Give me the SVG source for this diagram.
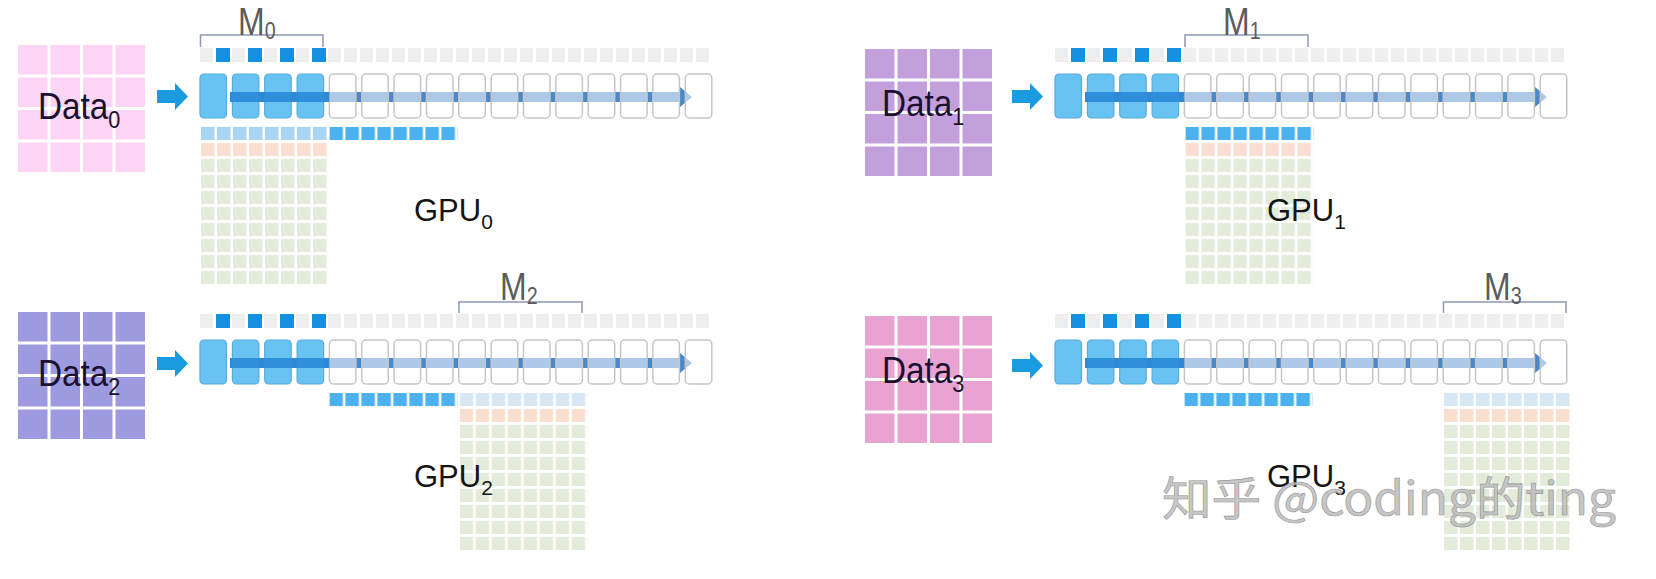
<svg xmlns="http://www.w3.org/2000/svg" xmlns:xlink="http://www.w3.org/1999/xlink" width="1656" height="579" viewBox="0 0 1656 579">
<style>
.lbl{font-family:"Liberation Sans",Arial,sans-serif;fill:#141414}
.dlbl{font-family:"Liberation Sans",Arial,sans-serif;fill:#1b1030;font-size:37px}
.mlbl{font-family:"Liberation Sans",Arial,sans-serif;fill:#5c5c5c;font-size:39px}
.brk{fill:none;stroke:#8e99b6;stroke-width:1.5}
.band{fill:#4a88ca}
.bbox{fill:#68c3f3;stroke:#58abdc;stroke-width:1.2}
.wbox{fill:#ffffff;fill-opacity:0.55;stroke:#c6c6c6;stroke-width:1.5}
.gl{stroke:#ffffff;stroke-width:3}
.inarrow{fill:#1a9be0}
.wm{font-family:"Noto Sans CJK SC",sans-serif;font-size:46px;fill:#bdbdbd;stroke:#858585;stroke-width:0.6;opacity:0.85}
</style>
<defs>
<pattern id="pGray" patternUnits="userSpaceOnUse" x="200" y="48" width="16" height="14"><rect width="13" height="14" fill="#eeeeee"/></pattern>
<pattern id="pBlueL" patternUnits="userSpaceOnUse" x="0" y="0" width="16" height="16"><rect width="13.5" height="13" fill="#a9d5f4"/></pattern>
<pattern id="pBlueXL" patternUnits="userSpaceOnUse" x="0" y="0" width="16" height="16"><rect width="13.5" height="13" fill="#d6e7f6"/></pattern>
<pattern id="pBlueD" patternUnits="userSpaceOnUse" x="0" y="0" width="16" height="16"><rect width="13.5" height="13" fill="#4bb1ef"/></pattern>
<pattern id="pPeach" patternUnits="userSpaceOnUse" x="0" y="0" width="16" height="16"><rect width="13.5" height="13" fill="#fadfd1"/></pattern>
<pattern id="pGreen" patternUnits="userSpaceOnUse" x="0" y="0" width="16" height="16"><rect width="13.5" height="13" fill="#e3ecda"/></pattern>
<g id="gridlines">
<line class="gl" x1="31" y1="0" x2="31" y2="127"/>
<line class="gl" x1="63.5" y1="0" x2="63.5" y2="127"/>
<line class="gl" x1="96" y1="0" x2="96" y2="127"/>
<line class="gl" x1="0" y1="31" x2="127" y2="31"/>
<line class="gl" x1="0" y1="63.5" x2="127" y2="63.5"/>
<line class="gl" x1="0" y1="96" x2="127" y2="96"/>
</g>
<g id="matbody">
<rect y="16" width="128" height="16" fill="url(#pPeach)"/>
<rect y="32" width="128" height="128" fill="url(#pGreen)"/>
</g>
<g id="track">
<rect x="200" y="48" width="512" height="14" fill="url(#pGray)"/>
<g fill="#1590de">
<rect x="216" y="48" width="14" height="14"/>
<rect x="248" y="48" width="14" height="14"/>
<rect x="280" y="48" width="14" height="14"/>
<rect x="312" y="48" width="14" height="14"/>
</g>
<rect class="band" x="230" y="92" width="452" height="10"/>
<polygon class="band" points="680,87 692,97 680,107"/>
<rect class="bbox" x="200" y="74" width="26.5" height="44" rx="4"/>
<rect class="bbox" x="232.4" y="74" width="26.5" height="44" rx="4"/>
<rect class="bbox" x="264.7" y="74" width="26.5" height="44" rx="4"/>
<rect class="bbox" x="297.1" y="74" width="26.5" height="44" rx="4"/>
<rect class="wbox" x="329.4" y="74" width="26.5" height="44" rx="4"/>
<rect class="wbox" x="361.8" y="74" width="26.5" height="44" rx="4"/>
<rect class="wbox" x="394.1" y="74" width="26.5" height="44" rx="4"/>
<rect class="wbox" x="426.5" y="74" width="26.5" height="44" rx="4"/>
<rect class="wbox" x="458.8" y="74" width="26.5" height="44" rx="4"/>
<rect class="wbox" x="491.2" y="74" width="26.5" height="44" rx="4"/>
<rect class="wbox" x="523.5" y="74" width="26.5" height="44" rx="4"/>
<rect class="wbox" x="555.9" y="74" width="26.5" height="44" rx="4"/>
<rect class="wbox" x="588.2" y="74" width="26.5" height="44" rx="4"/>
<rect class="wbox" x="620.6" y="74" width="26.5" height="44" rx="4"/>
<rect class="wbox" x="652.9" y="74" width="26.5" height="44" rx="4"/>
<rect class="wbox" x="685.3" y="74" width="26.5" height="44" rx="4"/>
<rect x="230" y="92" width="99.4" height="10" fill="#2a89d7" opacity="0.9"/>
</g>
</defs>
<rect width="1656" height="579" fill="#ffffff"/>

<!-- Data nodes -->
<g id="data0">
<rect x="18" y="45" width="127" height="127" fill="#fcd4f4"/>
<use xlink:href="#gridlines" transform="translate(18,45)"/>
<text class="dlbl" transform="translate(38,119) scale(0.9,1)">Data<tspan font-size="24" dy="9">0</tspan></text>
</g>
<g id="data1">
<rect x="865" y="49" width="127" height="127" fill="#c3a0db"/>
<use xlink:href="#gridlines" transform="translate(865,49)"/>
<text class="dlbl" transform="translate(882,116) scale(0.9,1)">Data<tspan font-size="24" dy="9">1</tspan></text>
</g>
<g id="data2">
<rect x="18" y="312" width="127" height="127" fill="#9d9adf"/>
<use xlink:href="#gridlines" transform="translate(18,312)"/>
<text class="dlbl" transform="translate(38,386) scale(0.9,1)">Data<tspan font-size="24" dy="9">2</tspan></text>
</g>
<g id="data3">
<rect x="865" y="316" width="127" height="127" fill="#e8a3d3"/>
<use xlink:href="#gridlines" transform="translate(865,316)"/>
<text class="dlbl" transform="translate(882,383) scale(0.9,1)">Data<tspan font-size="24" dy="9">3</tspan></text>
</g>

<!-- GPU nodes -->
<g id="gpu0">
<use xlink:href="#track"/>
<path class="brk" d="M200.5,47 V35 H323 V47"/>
<text class="mlbl" transform="translate(238,35) scale(0.82,1)">M<tspan font-size="24" dy="4">0</tspan></text>
<g transform="translate(201,127)">
<rect width="128" height="16" fill="url(#pBlueL)"/>
<use xlink:href="#matbody"/>
</g>
<g transform="translate(329.4,127)"><rect width="128" height="16" fill="url(#pBlueD)"/></g>
<text class="lbl" x="414" y="221" font-size="31">GPU<tspan font-size="21" dy="8">0</tspan></text>
</g>

<g id="gpu1" transform="translate(855,0)">
<use xlink:href="#track"/>
<path class="brk" d="M330,47 V35 H453 V47"/>
<text class="mlbl" transform="translate(368,35) scale(0.82,1)">M<tspan font-size="24" dy="4">1</tspan></text>
<g transform="translate(330.4,127)">
<rect width="128" height="16" fill="url(#pBlueD)"/>
<use xlink:href="#matbody"/>
</g>
<text class="lbl" x="412" y="221" font-size="31">GPU<tspan font-size="21" dy="8">1</tspan></text>
</g>

<g id="gpu2" transform="translate(0,266)">
<use xlink:href="#track"/>
<path class="brk" d="M459,47 V36 H582 V47"/>
<text class="mlbl" transform="translate(500,34) scale(0.82,1)">M<tspan font-size="24" dy="4">2</tspan></text>
<g transform="translate(459.7,127)">
<rect width="128" height="16" fill="url(#pBlueXL)"/>
<use xlink:href="#matbody"/>
</g>
<g transform="translate(329.4,127)"><rect width="128" height="16" fill="url(#pBlueD)"/></g>
<text class="lbl" x="414" y="221" font-size="31">GPU<tspan font-size="21" dy="8">2</tspan></text>
</g>

<g id="gpu3" transform="translate(855,266)">
<use xlink:href="#track"/>
<path class="brk" d="M588.5,47 V36 H711 V47"/>
<text class="mlbl" transform="translate(629,34) scale(0.82,1)">M<tspan font-size="24" dy="4">3</tspan></text>
<g transform="translate(589,127)">
<rect width="128" height="16" fill="url(#pBlueXL)"/>
<use xlink:href="#matbody"/>
</g>
<g transform="translate(329.4,127)"><rect width="128" height="16" fill="url(#pBlueD)"/></g>
<text class="lbl" x="412" y="221" font-size="31">GPU<tspan font-size="21" dy="8">3</tspan></text>
</g>

<!-- Connectors -->
<g id="connectors">
<polygon class="inarrow" points="157,90 175,90 175,83 188,96.5 175,110 175,103 157,103"/>
<polygon class="inarrow" points="1012,90 1030,90 1030,83 1043,96.5 1030,110 1030,103 1012,103"/>
<polygon class="inarrow" points="157,357 175,357 175,350 188,363.5 175,377 175,370 157,370"/>
<polygon class="inarrow" points="1012,359 1030,359 1030,352 1043,365.5 1030,379 1030,372 1012,372"/>
</g>

<text class="wm" x="1162" y="515" textLength="454" lengthAdjust="spacingAndGlyphs">知乎 @coding的ting</text>
</svg>
